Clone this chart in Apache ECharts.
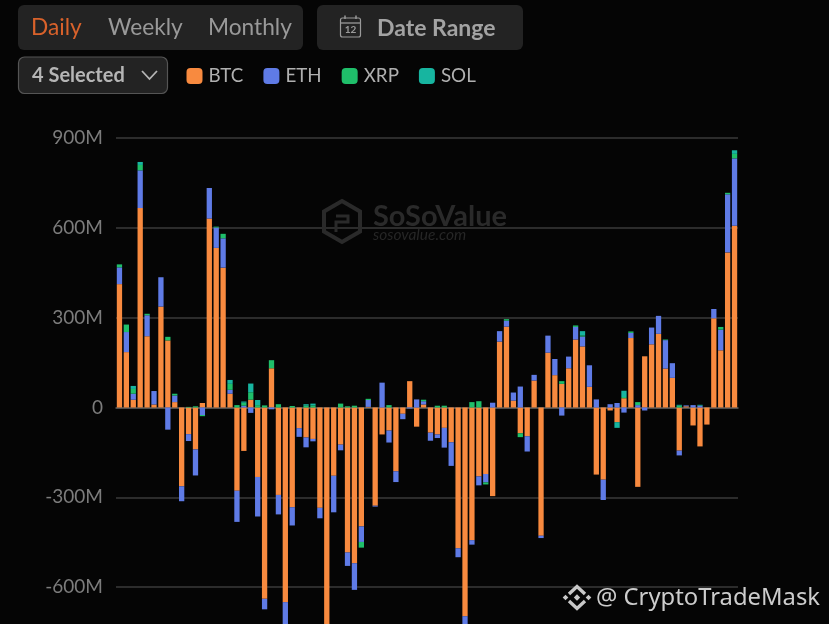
<!DOCTYPE html>
<html><head><meta charset="utf-8">
<style>html,body{margin:0;padding:0;background:#050505}#c{width:829px;height:624px}</style>
<script src="https://cdn.jsdelivr.net/npm/echarts@6/dist/echarts.min.js"></script>
</head><body><div id="c"></div>
<script>
const tickValues = [-900,-600,-300,0,300,600,900];
const legendNames = ['BTC','ETH','XRP','SOL'];
const BTC = [412,185,26,666,238,10,337,224,18,-263,-89,-140,15,631,533,467,46,-278,-145,26,
 -232,-639,131,-292,-650,-333,-69,-100,-105,-335,-800,-228,-124,-484,-520,-397,2,-328,-90,-77,
 -213,-21,88,-64,10,-84,-90,-68,-116,-470,-697,-443,-230,-222,-296,220,270,23,-86,-96,
 90,-428,183,108,79,131,227,204,69,-224,-241,-10,-49,31,232,-265,171,211,246,130,
 99,-144,4,-60,-130,-57,298,191,518,607];
const ETH = [56,67,20,126,70,45,98,-74,22,-50,-23,-87,-25,102,68,98,13,-104,6,-18,
 -132,-35,-6,-65,-80,-61,-29,-33,-8,-35,-60,-122,-19,-45,-89,-52,23,-3,83,-40,
 -36,-18,-3,27,11,-27,-12,-66,-79,-30,-50,-15,-30,-28,16,35,20,27,70,-51,
 19,-8,57,54,-27,39,42,33,72,27,-68,11,15,-17,17,8,-10,56,60,95,
 49,-16,3,8,6,0,31,69,194,225];
const XRP = [10,25,16,18,5,0,0,12,6,0,2,4,-4,0,3,15,20,8,10,25,
 8,7,27,11,0,5,0,6,7,0,0,0,13,4,6,-19,4,0,0,8,
 0,0,0,0,5,0,6,6,0,0,0,18,21,-7,0,0,5,0,-13,0,
 0,0,0,0,9,0,5,4,0,0,0,0,0,4,5,10,0,0,0,2,
 0,6,0,0,0,0,0,9,5,15];
const SOL = [0,0,10,10,0,0,0,0,0,0,0,0,0,0,0,0,13,0,4,29,
 17,0,0,0,0,0,0,5,6,0,0,0,0,0,0,0,0,0,0,0,
 0,0,0,0,0,0,0,0,0,0,0,0,0,0,0,0,0,0,0,0,
 0,0,0,0,0,0,0,14,0,0,0,0,-19,21,0,0,0,0,0,0,
 0,3,0,0,3,0,0,0,0,12];
const categories = BTC.map((_, i) => 'Day ' + (i + 1));
const colors = ['#F88A3F','#5F7BE6','#1FBF6A','#17B5A0'];
const seriesValues = [BTC, ETH, XRP, SOL];

const T = (text, x, y, font, fill, extra) => ({
  type:'text', z:(extra&&extra.z)||10, style:Object.assign({text, x, y, font, fill, textVerticalAlign:'middle'}, extra||{})
});
const R = (x, y, w, h, r, fill, stroke) => ({
  type:'rect', z:5, shape:{x,y,width:w,height:h,r}, style:{fill, stroke:stroke||null, lineWidth:stroke?1.2:0}
});
const L = (pts, stroke, lw, z) => ({
  type:'polyline', z:z||10, shape:{points:pts}, style:{stroke, lineWidth:lw, fill:null}
});
const D = (cx, cy, s, fill) => ({
  type:'polygon', z:10, shape:{points:[[cx,cy-s],[cx+s,cy],[cx,cy+s],[cx-s,cy]]}, style:{fill}
});
const ui = [
  R(18,5,285,45,6,'#232323'),
  T('Daily',31,28,'22.7px Lato','#D9622B'),
  T('Weekly',108,28,'22.7px Lato','#999999'),
  T('Monthly',208,28,'22.7px Lato','#999999'),
  R(317,5,206,45,6,'#232323'),
  R(340.5,18,20,19,2,'none','#9a9a9a'),
  L([[340.5,23],[360.5,23]],'#9a9a9a',1.3),
  L([[345,15.5],[345,19]],'#9a9a9a',1.5),
  L([[356,15.5],[356,19]],'#9a9a9a',1.5),
  T('12',350.5,30,'bold 10px Lato','#9a9a9a',{textAlign:'center'}),
  T('Date Range',377,28.5,'bold 23px Lato','#a3a3a3'),
  R(18.5,57,149,36.5,6,'#232323','#555555'),
  T('4 Selected',32,76,'bold 20px Lato','#b5b5b5'),
  L([[142,71],[149.5,79],[157,71]],'#b5b5b5',1.8),
  // SoSoValue watermark
  {type:'polygon',z:1,shape:{points:[[342,201],[360,211.5],[360,231.5],[342,242],[324,231.5],[324,211.5]]},style:{fill:'none',stroke:'#2a2a2a',lineWidth:4}},
  L([[336,216],[348,216],[348,222],[336,222],[336,232]],'#2a2a2a',3,1),
  T('SoSoValue',373,217,'bold 29px Lato','#2a2a2a',{z:1}),
  T('sosovalue.com',373,235,'italic 15.5px Lato','#262626',{z:1}),
  // signature
  L([[569,594],[577,586.5],[585,594]],'#c8c8c8',3.4),
  L([[569,601],[577,608.5],[585,601]],'#c8c8c8',3.4),
  D(565.5,597.5,2.8,'#c8c8c8'), D(588.5,597.5,2.8,'#c8c8c8'), D(577,597.5,3.2,'#c8c8c8'),
  T('@ CryptoTradeMask',596,598,'23.8px "Noto Sans"','#cccccc')
];

const chart = echarts.init(document.getElementById('c'), null, {renderer:'canvas'});
chart.setOption({
  backgroundColor:'#050505',
  animation:false,
  color:colors,
  grid:{left:116, top:138, width:622, height:539, containLabel:false, outerBoundsMode:'none'},
  legend:{
    data:legendNames.map(n => ({name:n, icon:'roundRect'})),
    left:181.5, top:61.5, itemWidth:16, itemHeight:16, itemGap:20, orient:'horizontal',
    selectedMode:false,
    textStyle:{color:'#b0b0b0', fontFamily:'Lato', fontSize:18.8, padding:[0,0,0,1]}
  },
  xAxis:{
    type:'category', data:categories,
    axisLine:{onZero:true, lineStyle:{color:'#5a5a5a', width:1.5}},
    axisTick:{show:false}, axisLabel:{show:false}, splitLine:{show:false}
  },
  yAxis:{
    type:'value', min:tickValues[0], max:tickValues[tickValues.length-1], interval:300,
    axisLine:{show:false}, axisTick:{show:false},
    axisLabel:{color:'#7c7c7c', fontFamily:'Lato', fontSize:19, margin:13,
      formatter:v => v === 0 ? '0' : v + 'M'},
    splitLine:{lineStyle:{color:'#3a3a3a', width:1.5}}
  },
  graphic:{elements:ui},
  series:legendNames.map((n,i) => ({
    name:n, type:'bar', stack:'total', barWidth:5.3, z:3,
    itemStyle:{color:colors[i]},
    data:seriesValues[i]
  }))
});
</script></body></html>
